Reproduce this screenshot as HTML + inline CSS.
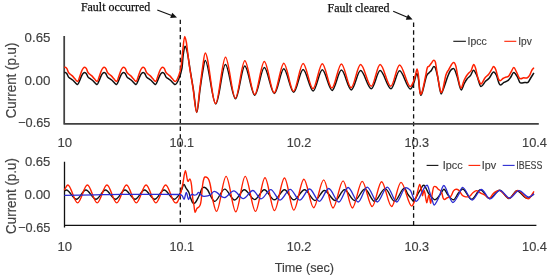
<!DOCTYPE html>
<html><head><meta charset="utf-8"><title>Current waveforms</title>
<style>html,body{margin:0;padding:0;background:#fff;width:550px;height:278px;overflow:hidden}svg{display:block}</style>
</head><body>
<svg width="550" height="278" viewBox="0 0 550 278">
<line x1="180.3" y1="19.7" x2="180.3" y2="225.6" stroke="#111" stroke-width="1.3" stroke-dasharray="4.4 3.23"/>
<line x1="413.6" y1="22.6" x2="413.6" y2="225.6" stroke="#111" stroke-width="1.3" stroke-dasharray="4.4 3.23"/>
<path d="M64.2 36V123.9H538.8" fill="none" stroke="#404040" stroke-width="1.75" stroke-linejoin="round"/>
<path d="M64.5 161.8V227.5M64.5 225.4H536.4" fill="none" stroke="#111111" stroke-width="1.3"/>
<path d="M64.30 72.56C64.63 72.57 64.97 72.60 65.30 72.60C65.83 72.60 66.37 73.05 66.90 73.79C67.40 74.48 67.90 76.20 68.40 76.88C69.03 77.75 69.67 77.96 70.30 78.43C71.07 79.00 71.83 79.34 72.60 79.98C73.37 80.61 74.13 81.48 74.90 82.24C75.53 82.87 76.17 83.63 76.80 84.14C77.10 84.39 77.40 84.50 77.70 84.50C78.33 84.50 78.97 82.10 79.60 80.69C80.23 79.28 80.87 77.31 81.50 76.05C82.10 74.85 82.70 73.94 83.30 73.31C83.80 72.79 84.30 72.60 84.80 72.60C85.33 72.60 85.87 73.05 86.40 73.79C86.90 74.48 87.40 76.20 87.90 76.88C88.53 77.75 89.17 77.96 89.80 78.43C90.57 79.00 91.33 79.34 92.10 79.98C92.87 80.61 93.63 81.48 94.40 82.24C95.03 82.87 95.67 83.63 96.30 84.14C96.60 84.39 96.90 84.50 97.20 84.50C97.83 84.50 98.47 82.10 99.10 80.69C99.73 79.28 100.37 77.31 101.00 76.05C101.60 74.85 102.20 73.94 102.80 73.31C103.30 72.79 103.80 72.60 104.30 72.60C104.83 72.60 105.37 73.05 105.90 73.79C106.40 74.48 106.90 76.20 107.40 76.88C108.03 77.75 108.67 77.96 109.30 78.43C110.07 79.00 110.83 79.34 111.60 79.98C112.37 80.61 113.13 81.48 113.90 82.24C114.53 82.87 115.17 83.63 115.80 84.14C116.10 84.39 116.40 84.50 116.70 84.50C117.33 84.50 117.97 82.10 118.60 80.69C119.23 79.28 119.87 77.31 120.50 76.05C121.10 74.85 121.70 73.94 122.30 73.31C122.80 72.79 123.30 72.60 123.80 72.60C124.33 72.60 124.87 73.05 125.40 73.79C125.90 74.48 126.40 76.20 126.90 76.88C127.53 77.75 128.17 77.96 128.80 78.43C129.57 79.00 130.33 79.34 131.10 79.98C131.87 80.61 132.63 81.48 133.40 82.24C134.03 82.87 134.67 83.63 135.30 84.14C135.60 84.39 135.90 84.50 136.20 84.50C136.83 84.50 137.47 82.10 138.10 80.69C138.73 79.28 139.37 77.31 140.00 76.05C140.60 74.85 141.20 73.94 141.80 73.31C142.30 72.79 142.80 72.60 143.30 72.60C143.83 72.60 144.37 73.05 144.90 73.79C145.40 74.48 145.90 76.20 146.40 76.88C147.03 77.75 147.67 77.96 148.30 78.43C149.07 79.00 149.83 79.34 150.60 79.98C151.37 80.61 152.13 81.48 152.90 82.24C153.53 82.87 154.17 83.63 154.80 84.14C155.10 84.39 155.40 84.50 155.70 84.50C156.33 84.50 156.97 82.10 157.60 80.69C158.23 79.28 158.87 77.31 159.50 76.05C160.10 74.85 160.70 73.94 161.30 73.31C161.80 72.79 162.30 72.60 162.80 72.60C163.33 72.60 163.87 73.05 164.40 73.79C164.90 74.48 165.40 76.20 165.90 76.88C166.53 77.75 167.17 77.96 167.80 78.43C168.57 79.00 169.33 79.34 170.10 79.98C170.87 80.61 171.63 81.48 172.40 82.24C173.03 82.87 173.67 83.63 174.30 84.14C174.60 84.39 174.90 84.50 175.20 84.50C176.40 84.50 177.60 81.91 178.80 79.00C179.87 76.41 180.93 73.82 182.00 68.00C182.40 65.82 182.80 57.89 183.20 55.00C183.80 50.66 184.40 46.30 185.00 46.30C185.60 46.30 186.20 48.06 186.80 50.00C187.20 51.29 187.60 53.63 188.00 56.00C188.67 59.96 189.33 64.85 190.00 69.00C191.10 75.85 192.20 81.96 193.30 89.00C194.47 96.46 195.63 112.50 196.80 112.50C197.90 112.50 199.00 96.61 200.10 89.00C201.00 82.77 201.90 76.03 202.80 71.00C203.60 66.53 204.40 60.50 205.20 60.50C208.73 60.50 212.27 104.00 215.80 104.00C219.00 104.00 222.20 64.40 225.40 64.40C228.77 64.40 232.13 98.80 235.50 98.80C238.60 98.80 241.70 65.90 244.80 65.90C248.13 65.90 251.47 95.30 254.80 95.30C257.97 95.30 261.13 67.60 264.30 67.60C267.67 67.60 271.03 93.60 274.40 93.60C277.53 93.60 280.67 68.70 283.80 68.70C287.10 68.70 290.40 92.30 293.70 92.30C296.83 92.30 299.97 69.40 303.10 69.40C306.47 69.40 309.83 91.00 313.20 91.00C316.23 91.00 319.27 69.80 322.30 69.80C325.57 69.80 328.83 90.40 332.10 90.40C335.20 90.40 338.30 70.10 341.40 70.10C344.70 70.10 348.00 89.90 351.30 89.90C354.40 89.90 357.50 70.60 360.60 70.60C364.17 70.60 367.73 88.80 371.30 88.80C374.23 88.80 377.17 70.60 380.10 70.60C383.73 70.60 387.37 88.80 391.00 88.80C393.87 88.80 396.73 70.80 399.60 70.80C403.23 70.80 406.87 89.10 410.50 89.10C411.67 89.10 412.83 85.26 414.00 82.40C414.97 80.03 415.93 73.40 416.90 73.40C417.47 73.40 418.03 76.56 418.60 80.00C419.00 82.43 419.40 88.22 419.80 91.00C420.13 93.32 420.47 95.30 420.80 95.30C421.43 95.30 422.07 93.14 422.70 91.00C423.97 86.71 425.23 79.62 426.50 76.00C427.37 73.52 428.23 73.69 429.10 72.70C429.83 71.86 430.57 71.47 431.30 70.50C432.13 69.40 432.97 66.50 433.80 66.50C434.30 66.50 434.80 66.53 435.30 67.60C435.77 68.60 436.23 70.87 436.70 72.70C437.03 74.01 437.37 75.39 437.70 77.00C438.83 82.46 439.97 93.90 441.10 93.90C441.73 93.90 442.37 91.67 443.00 90.00C444.63 85.70 446.27 80.25 447.90 76.00C448.77 73.75 449.63 71.66 450.50 70.50C451.53 69.12 452.57 68.40 453.60 68.40C454.73 68.40 455.87 72.78 457.00 76.00C458.40 79.98 459.80 90.00 461.20 90.00C462.23 90.00 463.27 85.46 464.30 83.50C465.20 81.79 466.10 80.16 467.00 79.00C468.20 77.46 469.40 77.02 470.60 75.40C471.57 74.09 472.53 70.20 473.50 70.20C474.67 70.20 475.83 73.45 477.00 76.00C478.33 78.92 479.67 86.60 481.00 86.60C482.50 86.60 484.00 82.85 485.50 81.30C486.77 79.99 488.03 79.45 489.30 78.00C490.73 76.35 492.17 72.00 493.60 72.00C494.53 72.00 495.47 73.35 496.40 75.30C497.30 77.18 498.20 81.49 499.10 83.50C499.63 84.69 500.17 84.90 500.70 84.90C501.80 84.90 502.90 83.05 504.00 82.40C505.27 81.65 506.53 81.65 507.80 80.70C508.70 80.02 509.60 78.73 510.50 77.50C511.60 76.00 512.70 72.50 513.80 72.50C514.90 72.50 516.00 74.58 517.10 76.40C518.00 77.88 518.90 81.03 519.80 82.40C520.37 83.26 520.93 83.10 521.50 83.10C522.57 83.10 523.63 82.51 524.70 82.40C525.80 82.28 526.90 83.21 528.00 82.40C528.90 81.74 529.80 79.45 530.70 78.00C531.77 76.28 532.83 74.60 533.90 72.90" fill="none" stroke="#111111" stroke-width="1.5" stroke-linejoin="round"/>
<path d="M64.30 67.25C64.63 67.27 64.97 67.30 65.30 67.30C65.83 67.30 66.37 67.84 66.90 68.72C67.40 69.54 67.90 71.60 68.40 72.41C69.03 73.44 69.67 73.70 70.30 74.26C71.07 74.93 71.83 75.35 72.60 76.10C73.37 76.86 74.13 77.89 74.90 78.80C75.53 79.55 76.17 80.46 76.80 81.07C77.10 81.36 77.40 81.50 77.70 81.50C78.33 81.50 78.97 78.64 79.60 76.96C80.23 75.28 80.87 72.92 81.50 71.42C82.10 69.99 82.70 68.90 83.30 68.15C83.80 67.53 84.30 67.30 84.80 67.30C85.33 67.30 85.87 67.84 86.40 68.72C86.90 69.54 87.40 71.60 87.90 72.41C88.53 73.44 89.17 73.70 89.80 74.26C90.57 74.93 91.33 75.35 92.10 76.10C92.87 76.86 93.63 77.89 94.40 78.80C95.03 79.55 95.67 80.46 96.30 81.07C96.60 81.36 96.90 81.50 97.20 81.50C97.83 81.50 98.47 78.64 99.10 76.96C99.73 75.28 100.37 72.92 101.00 71.42C101.60 69.99 102.20 68.90 102.80 68.15C103.30 67.53 103.80 67.30 104.30 67.30C104.83 67.30 105.37 67.84 105.90 68.72C106.40 69.54 106.90 71.60 107.40 72.41C108.03 73.44 108.67 73.70 109.30 74.26C110.07 74.93 110.83 75.35 111.60 76.10C112.37 76.86 113.13 77.89 113.90 78.80C114.53 79.55 115.17 80.46 115.80 81.07C116.10 81.36 116.40 81.50 116.70 81.50C117.33 81.50 117.97 78.64 118.60 76.96C119.23 75.28 119.87 72.92 120.50 71.42C121.10 69.99 121.70 68.90 122.30 68.15C122.80 67.53 123.30 67.30 123.80 67.30C124.33 67.30 124.87 67.84 125.40 68.72C125.90 69.54 126.40 71.60 126.90 72.41C127.53 73.44 128.17 73.70 128.80 74.26C129.57 74.93 130.33 75.35 131.10 76.10C131.87 76.86 132.63 77.89 133.40 78.80C134.03 79.55 134.67 80.46 135.30 81.07C135.60 81.36 135.90 81.50 136.20 81.50C136.83 81.50 137.47 78.64 138.10 76.96C138.73 75.28 139.37 72.92 140.00 71.42C140.60 69.99 141.20 68.90 141.80 68.15C142.30 67.53 142.80 67.30 143.30 67.30C143.83 67.30 144.37 67.84 144.90 68.72C145.40 69.54 145.90 71.60 146.40 72.41C147.03 73.44 147.67 73.70 148.30 74.26C149.07 74.93 149.83 75.35 150.60 76.10C151.37 76.86 152.13 77.89 152.90 78.80C153.53 79.55 154.17 80.46 154.80 81.07C155.10 81.36 155.40 81.50 155.70 81.50C156.33 81.50 156.97 78.64 157.60 76.96C158.23 75.28 158.87 72.92 159.50 71.42C160.10 69.99 160.70 68.90 161.30 68.15C161.80 67.53 162.30 67.30 162.80 67.30C163.33 67.30 163.87 67.84 164.40 68.72C164.90 69.54 165.40 71.60 165.90 72.41C166.53 73.44 167.17 73.70 167.80 74.26C168.57 74.93 169.33 75.35 170.10 76.10C170.87 76.86 171.63 77.89 172.40 78.80C173.03 79.55 173.67 80.46 174.30 81.07C174.60 81.36 174.90 81.50 175.20 81.50C176.40 81.50 177.60 78.60 178.80 75.50C179.60 73.43 180.40 70.95 181.20 66.00C181.67 63.11 182.13 55.92 182.60 52.00C183.30 46.12 184.00 36.60 184.70 36.60C185.27 36.60 185.83 39.49 186.40 42.50C186.80 44.62 187.20 48.91 187.60 52.00C188.30 57.41 189.00 63.33 189.70 68.00C190.80 75.33 191.90 80.94 193.00 88.00C194.20 95.70 195.40 112.30 196.60 112.30C197.70 112.30 198.80 96.26 199.90 88.00C200.77 81.49 201.63 73.72 202.50 68.00C203.40 62.06 204.30 53.00 205.20 53.00C208.67 53.00 212.13 103.50 215.60 103.50C218.90 103.50 222.20 57.30 225.50 57.30C228.80 57.30 232.10 98.20 235.40 98.20C238.53 98.20 241.67 60.80 244.80 60.80C248.10 60.80 251.40 94.50 254.70 94.50C257.90 94.50 261.10 61.50 264.30 61.50C267.60 61.50 270.90 92.80 274.20 92.80C277.40 92.80 280.60 63.20 283.80 63.20C287.03 63.20 290.27 91.30 293.50 91.30C296.70 91.30 299.90 63.50 303.10 63.50C306.40 63.50 309.70 88.70 313.00 88.70C316.10 88.70 319.20 63.80 322.30 63.80C325.50 63.80 328.70 88.10 331.90 88.10C335.07 88.10 338.23 64.00 341.40 64.00C344.63 64.00 347.87 87.80 351.10 87.80C354.27 87.80 357.43 64.50 360.60 64.50C364.17 64.50 367.73 86.30 371.30 86.30C374.23 86.30 377.17 64.50 380.10 64.50C383.67 64.50 387.23 86.30 390.80 86.30C393.73 86.30 396.67 64.90 399.60 64.90C403.20 64.90 406.80 86.60 410.40 86.60C411.43 86.60 412.47 83.84 413.50 81.50C414.10 80.14 414.70 77.57 415.30 75.50C415.90 73.43 416.50 69.10 417.10 69.10C417.57 69.10 418.03 72.10 418.50 76.00C418.87 79.07 419.23 86.95 419.60 90.00C419.97 93.05 420.33 94.30 420.70 94.30C421.30 94.30 421.90 92.74 422.50 90.50C423.53 86.64 424.57 80.89 425.60 76.00C426.17 73.32 426.73 69.39 427.30 67.80C427.90 66.12 428.50 66.88 429.10 66.20C429.83 65.38 430.57 64.22 431.30 63.30C432.13 62.25 432.97 60.30 433.80 60.30C434.30 60.30 434.80 60.52 435.30 61.80C435.57 62.48 435.83 64.57 436.10 66.20C436.50 68.64 436.90 71.65 437.30 74.00C438.20 79.28 439.10 84.69 440.00 89.10C440.37 90.89 440.73 92.60 441.10 92.60C441.70 92.60 442.30 91.30 442.90 89.10C443.90 85.43 444.90 78.39 445.90 75.00C446.80 71.95 447.70 71.25 448.60 69.80C450.30 67.05 452.00 62.40 453.70 62.40C454.43 62.40 455.17 63.71 455.90 66.20C456.50 68.24 457.10 73.44 457.70 76.00C458.80 80.70 459.90 88.00 461.00 88.00C461.97 88.00 462.93 82.98 463.90 80.80C464.63 79.15 465.37 77.65 466.10 76.50C467.07 74.98 468.03 73.94 469.00 72.80C469.73 71.94 470.47 71.78 471.20 70.50C472.03 69.05 472.87 64.60 473.70 64.60C474.30 64.60 474.90 66.15 475.50 68.00C476.13 69.95 476.77 73.51 477.40 76.00C477.70 77.18 478.00 78.33 478.30 79.00C479.20 81.00 480.10 84.00 481.00 84.00C482.30 84.00 483.60 79.65 484.90 78.00C486.17 76.39 487.43 75.77 488.70 74.20C489.63 73.04 490.57 71.27 491.50 69.80C492.20 68.70 492.90 66.50 493.60 66.50C494.33 66.50 495.07 67.91 495.80 69.80C496.70 72.11 497.60 76.87 498.50 79.10C499.07 80.50 499.63 80.70 500.20 80.70C501.10 80.70 502.00 79.08 502.90 78.50C503.80 77.92 504.70 77.54 505.60 77.20C506.53 76.84 507.47 77.28 508.40 76.40C509.30 75.55 510.20 73.47 511.10 72.00C512.00 70.53 512.90 67.60 513.80 67.60C514.70 67.60 515.60 70.30 516.50 72.00C517.43 73.76 518.37 76.56 519.30 78.00C519.83 78.82 520.37 78.80 520.90 78.80C521.80 78.80 522.70 77.82 523.60 77.70C524.70 77.55 525.80 78.44 526.90 78.00C527.80 77.64 528.70 76.70 529.60 75.30C530.33 74.16 531.07 71.71 531.80 70.40C532.50 69.15 533.20 68.53 533.90 67.60" fill="none" stroke="#FF2000" stroke-width="1.5" stroke-linejoin="round"/>
<path d="M64.30 190.93C64.97 190.62 65.63 190.00 66.30 190.00C69.67 190.00 73.03 199.30 76.40 199.30C79.56 199.30 82.71 190.00 85.87 190.00C89.24 190.00 92.60 199.30 95.97 199.30C99.13 199.30 102.28 190.00 105.44 190.00C108.81 190.00 112.17 199.30 115.54 199.30C118.70 199.30 121.85 190.00 125.01 190.00C128.38 190.00 131.74 199.30 135.11 199.30C138.27 199.30 141.42 190.00 144.58 190.00C147.95 190.00 151.31 199.30 154.68 199.30C157.84 199.30 160.99 190.00 164.15 190.00C167.52 190.00 170.88 199.30 174.25 199.30C175.97 199.30 177.68 196.70 179.40 194.50C180.10 193.60 180.80 191.54 181.50 190.00C182.33 188.17 183.17 184.40 184.00 184.40C184.63 184.40 185.27 186.86 185.90 187.90C186.87 189.49 187.83 190.20 188.80 192.30C189.40 193.60 190.00 196.45 190.60 198.10C191.23 199.85 191.87 201.59 192.50 202.50C193.07 203.32 193.63 203.30 194.20 203.30C195.80 203.30 197.40 199.05 199.00 196.00C199.97 194.15 200.93 190.27 201.90 188.60C202.63 187.33 203.37 187.20 204.10 187.20C205.30 187.20 206.50 188.32 207.70 190.00C208.93 191.72 210.17 195.39 211.40 197.40C212.50 199.19 213.60 201.40 214.70 201.40C218.03 201.40 221.37 189.10 224.70 189.10C228.03 189.10 231.37 200.00 234.70 200.00C237.90 200.00 241.10 189.80 244.30 189.80C247.77 189.80 251.23 199.60 254.70 199.60C257.90 199.60 261.10 189.80 264.30 189.80C267.67 189.80 271.03 199.80 274.40 199.80C277.77 199.80 281.13 189.80 284.50 189.80C287.60 189.80 290.70 199.80 293.80 199.80C297.40 199.80 301.00 189.80 304.60 189.80C308.07 189.80 311.53 200.50 315.00 200.50C318.13 200.50 321.27 190.50 324.40 190.50C328.00 190.50 331.60 200.50 335.20 200.50C338.30 200.50 341.40 189.80 344.50 189.80C347.87 189.80 351.23 200.50 354.60 200.50C358.07 200.50 361.53 189.00 365.00 189.00C368.13 189.00 371.27 201.30 374.40 201.30C378.00 201.30 381.60 188.60 385.20 188.60C388.30 188.60 391.40 201.30 394.50 201.30C397.80 201.30 401.10 188.10 404.40 188.10C405.60 188.10 406.80 192.69 408.00 194.50C409.10 196.16 410.20 197.16 411.30 198.50C412.03 199.39 412.77 201.20 413.50 201.20C414.40 201.20 415.30 198.91 416.20 197.40C416.93 196.17 417.67 194.33 418.40 193.00C419.30 191.37 420.20 190.03 421.10 188.50C421.63 187.59 422.17 186.35 422.70 185.70C423.07 185.25 423.43 185.20 423.80 185.20C424.17 185.20 424.53 185.74 424.90 186.30C425.43 187.11 425.97 188.28 426.50 189.30C427.23 190.71 427.97 192.50 428.70 193.60C429.63 195.00 430.57 195.84 431.50 196.80C432.57 197.90 433.63 199.80 434.70 199.80C435.63 199.80 436.57 198.85 437.50 197.90C438.63 196.75 439.77 195.02 440.90 193.50C441.90 192.16 442.90 189.30 443.90 189.30C445.27 189.30 446.63 193.51 448.00 195.00C449.83 197.01 451.67 199.80 453.50 199.80C455.13 199.80 456.77 194.92 458.40 193.00C459.83 191.32 461.27 189.00 462.70 189.00C465.63 189.00 468.57 199.30 471.50 199.30C474.50 199.30 477.50 189.80 480.50 189.80C483.43 189.80 486.37 198.50 489.30 198.50C492.77 198.50 496.23 190.30 499.70 190.30C502.77 190.30 505.83 198.60 508.90 198.60C511.60 198.60 514.30 190.70 517.00 190.70C520.37 190.70 523.73 198.30 527.10 198.30C529.40 198.30 531.70 195.37 534.00 193.90" fill="none" stroke="#111111" stroke-width="1.4" stroke-linejoin="round"/>
<path d="M64.30 190.08C65.47 188.39 66.63 185.00 67.80 185.00C71.07 185.00 74.33 202.90 77.60 202.90C80.86 202.90 84.11 185.00 87.37 185.00C90.64 185.00 93.90 202.90 97.17 202.90C100.43 202.90 103.68 185.00 106.94 185.00C110.21 185.00 113.47 202.90 116.74 202.90C120.00 202.90 123.25 185.00 126.51 185.00C129.78 185.00 133.04 202.90 136.31 202.90C139.57 202.90 142.82 185.00 146.08 185.00C149.35 185.00 152.61 202.90 155.88 202.90C159.14 202.90 162.39 185.00 165.65 185.00C168.92 185.00 172.18 202.90 175.45 202.90C176.10 202.90 176.75 202.91 177.40 202.00C178.07 201.07 178.73 199.58 179.40 197.40C180.47 193.91 181.53 189.73 182.60 185.00C183.53 180.86 184.47 170.80 185.40 170.80C186.17 170.80 186.93 179.60 187.70 181.00C188.43 182.34 189.17 179.00 189.90 179.00C190.43 179.00 190.97 181.32 191.50 185.00C191.93 187.99 192.37 195.39 192.80 199.00C193.17 202.06 193.53 202.77 193.90 205.00C194.27 207.23 194.63 212.40 195.00 212.40C195.60 212.40 196.20 209.53 196.80 208.70C197.53 207.69 198.27 207.76 199.00 206.90C199.43 206.39 199.87 205.96 200.30 204.60C200.60 203.66 200.90 202.56 201.20 200.00C201.67 196.02 202.13 188.54 202.60 185.00C203.10 181.21 203.60 179.33 204.10 178.00C204.60 176.67 205.10 177.00 205.60 177.00C206.20 177.00 206.80 177.14 207.40 177.70C207.93 178.20 208.47 178.77 209.00 180.20C209.50 181.54 210.00 183.39 210.50 186.00C211.27 189.99 212.03 196.75 212.80 200.00C214.03 205.22 215.27 211.40 216.50 211.40C219.70 211.40 222.90 176.40 226.10 176.40C229.33 176.40 232.57 211.80 235.80 211.80C238.93 211.80 242.07 176.40 245.20 176.40C248.63 176.40 252.07 211.40 255.50 211.40C258.67 211.40 261.83 177.80 265.00 177.80C268.13 177.80 271.27 210.60 274.40 210.60C277.77 210.60 281.13 178.00 284.50 178.00C287.60 178.00 290.70 210.10 293.80 210.10C297.17 210.10 300.53 179.20 303.90 179.20C307.13 179.20 310.37 207.70 313.60 207.70C316.97 207.70 320.33 179.90 323.70 179.90C326.80 179.90 329.90 208.00 333.00 208.00C336.37 208.00 339.73 180.90 343.10 180.90C346.20 180.90 349.30 208.00 352.40 208.00C355.67 208.00 358.93 181.40 362.20 181.40C365.53 181.40 368.87 206.50 372.20 206.50C375.33 206.50 378.47 181.80 381.60 181.80C384.93 181.80 388.27 206.50 391.60 206.50C394.73 206.50 397.87 182.40 401.00 182.40C404.60 182.40 408.20 206.10 411.80 206.10C412.53 206.10 413.27 203.97 414.00 202.50C414.53 201.43 415.07 200.04 415.60 198.50C416.17 196.87 416.73 194.95 417.30 193.00C418.10 190.25 418.90 184.40 419.70 184.40C420.33 184.40 420.97 188.34 421.60 190.90C421.90 192.11 422.20 195.70 422.50 195.70C423.03 195.70 423.57 190.10 424.10 190.10C424.37 190.10 424.63 191.68 424.90 193.00C425.27 194.81 425.63 197.61 426.00 199.50C426.27 200.88 426.53 202.80 426.80 202.80C427.17 202.80 427.53 199.97 427.90 198.50C428.17 197.43 428.43 195.20 428.70 195.20C429.07 195.20 429.43 196.92 429.80 198.50C430.07 199.65 430.33 203.40 430.60 203.40C430.90 203.40 431.20 200.26 431.50 198.50C431.73 197.13 431.97 195.34 432.20 194.00C432.60 191.71 433.00 188.82 433.40 187.60C433.83 186.28 434.27 186.40 434.70 186.40C435.27 186.40 435.83 186.63 436.40 187.10C437.00 187.60 437.60 188.78 438.20 189.30C438.93 189.94 439.67 189.77 440.40 190.60C440.93 191.20 441.47 192.14 442.00 193.60C442.37 194.60 442.73 197.13 443.10 198.00C443.57 199.10 444.03 199.50 444.50 199.50C445.30 199.50 446.10 198.32 446.90 197.90C447.43 197.62 447.97 197.56 448.50 197.40C449.17 197.20 449.83 197.37 450.50 196.80C450.93 196.43 451.37 195.45 451.80 194.60C452.37 193.49 452.93 191.58 453.50 190.90C454.40 189.82 455.30 189.30 456.20 189.30C457.10 189.30 458.00 189.61 458.90 190.40C459.63 191.04 460.37 192.53 461.10 193.60C461.47 194.13 461.83 194.90 462.20 195.20C463.10 195.93 464.00 196.41 464.90 196.70C465.77 196.98 466.63 196.90 467.50 196.90C468.33 196.90 469.17 196.65 470.00 196.00C470.97 195.25 471.93 193.50 472.90 192.70C474.10 191.70 475.30 190.60 476.50 190.60C477.50 190.60 478.50 191.85 479.50 192.40C480.70 193.05 481.90 193.54 483.10 194.20C484.07 194.74 485.03 195.33 486.00 196.00C487.10 196.76 488.20 198.50 489.30 198.50C489.90 198.50 490.50 197.45 491.10 196.70C491.83 195.78 492.57 194.28 493.30 193.50C494.27 192.48 495.23 191.83 496.20 191.30C497.13 190.79 498.07 190.40 499.00 190.40C502.43 190.40 505.87 198.30 509.30 198.30C512.10 198.30 514.90 190.40 517.70 190.40C521.27 190.40 524.83 198.90 528.40 198.90C530.27 198.90 532.13 193.90 534.00 191.40" fill="none" stroke="#FF2000" stroke-width="1.4" stroke-linejoin="round"/>
<path d="M64.30 195.40C74.53 195.20 84.77 195.00 95.00 194.80C103.67 194.63 112.33 194.36 121.00 194.30C130.67 194.23 140.33 194.37 150.00 194.40C159.33 194.43 168.67 194.44 178.00 194.50C178.83 194.51 179.67 194.33 180.50 194.60C181.10 194.80 181.70 195.13 182.30 195.90C182.90 196.67 183.50 199.20 184.10 199.20C184.83 199.20 185.57 192.30 186.30 192.30C187.03 192.30 187.77 199.50 188.50 199.50C189.10 199.50 189.70 196.71 190.30 195.90C191.03 194.91 191.77 194.10 192.50 194.10C193.10 194.10 193.70 195.20 194.30 195.20C195.13 195.20 195.97 195.06 196.80 194.50C197.40 194.10 198.00 192.30 198.60 192.30C199.47 192.30 200.33 194.57 201.20 195.20C202.17 195.90 203.13 196.30 204.10 196.30C205.30 196.30 206.50 196.23 207.70 195.90C208.67 195.63 209.63 195.16 210.60 194.50C211.83 193.66 213.07 191.40 214.30 191.40C217.60 191.40 220.90 197.70 224.20 197.70C227.40 197.70 230.60 190.90 233.80 190.90C236.93 190.90 240.07 198.60 243.20 198.60C246.43 198.60 249.67 190.50 252.90 190.50C255.60 190.50 258.30 198.90 261.00 198.90C264.27 198.90 267.53 189.60 270.80 189.60C273.90 189.60 277.00 200.10 280.10 200.10C283.47 200.10 286.83 189.30 290.20 189.30C293.33 189.30 296.47 200.10 299.60 200.10C302.93 200.10 306.27 189.00 309.60 189.00C312.87 189.00 316.13 201.30 319.40 201.30C322.50 201.30 325.60 188.50 328.70 188.50C332.07 188.50 335.43 202.00 338.80 202.00C341.90 202.00 345.00 187.50 348.10 187.50C351.47 187.50 354.83 202.00 358.20 202.00C361.20 202.00 364.20 187.10 367.20 187.10C370.57 187.10 373.93 202.00 377.30 202.00C380.63 202.00 383.97 187.10 387.30 187.10C390.43 187.10 393.57 202.00 396.70 202.00C399.70 202.00 402.70 187.60 405.70 187.60C406.47 187.60 407.23 187.89 408.00 188.40C408.90 188.99 409.80 189.33 410.70 190.90C411.63 192.53 412.57 196.27 413.50 198.00C414.43 199.73 415.37 201.30 416.30 201.30C417.17 201.30 418.03 199.82 418.90 198.50C419.63 197.38 420.37 195.48 421.10 194.00C422.00 192.18 422.90 189.92 423.80 188.60C424.90 186.99 426.00 185.20 427.10 185.20C427.47 185.20 427.83 186.11 428.20 187.10C428.73 188.54 429.27 190.76 429.80 192.50C430.53 194.89 431.27 197.42 432.00 199.50C432.73 201.58 433.47 205.00 434.20 205.00C435.10 205.00 436.00 202.81 436.90 201.20C437.87 199.47 438.83 197.46 439.80 195.00C440.53 193.13 441.27 189.90 442.00 188.20C442.63 186.73 443.27 185.50 443.90 185.50C444.53 185.50 445.17 186.89 445.80 188.20C446.70 190.06 447.60 193.19 448.50 195.00C449.97 197.95 451.43 202.50 452.90 202.50C454.77 202.50 456.63 197.94 458.50 195.00C459.83 192.90 461.17 187.40 462.50 187.40C465.73 187.40 468.97 200.00 472.20 200.00C475.23 200.00 478.27 189.50 481.30 189.50C484.20 189.50 487.10 198.90 490.00 198.90C493.30 198.90 496.60 190.30 499.90 190.30C503.13 190.30 506.37 198.00 509.60 198.00C512.73 198.00 515.87 190.70 519.00 190.70C522.33 190.70 525.67 197.20 529.00 197.20C530.67 197.20 532.33 195.00 534.00 193.90" fill="none" stroke="#2C2CD2" stroke-width="1.3" stroke-linejoin="round"/>
<text x="50.4" y="41.6" font-size="13.0" text-anchor="end" font-family="'Liberation Sans', Arial, sans-serif" fill="#404040" stroke="#404040" stroke-width="0.15" textLength="25.8" lengthAdjust="spacingAndGlyphs">0.65</text>
<text x="50.4" y="84.9" font-size="13.0" text-anchor="end" font-family="'Liberation Sans', Arial, sans-serif" fill="#404040" stroke="#404040" stroke-width="0.15" textLength="26.0" lengthAdjust="spacingAndGlyphs">0.00</text>
<text x="50.4" y="127.3" font-size="13.0" text-anchor="end" font-family="'Liberation Sans', Arial, sans-serif" fill="#404040" stroke="#404040" stroke-width="0.15" textLength="32.2" lengthAdjust="spacingAndGlyphs">&#8722;0.65</text>
<text x="50.4" y="166.0" font-size="13.0" text-anchor="end" font-family="'Liberation Sans', Arial, sans-serif" fill="#404040" stroke="#404040" stroke-width="0.15" textLength="25.5" lengthAdjust="spacingAndGlyphs">0.65</text>
<text x="50.4" y="198.6" font-size="13.0" text-anchor="end" font-family="'Liberation Sans', Arial, sans-serif" fill="#404040" stroke="#404040" stroke-width="0.15" textLength="25.8" lengthAdjust="spacingAndGlyphs">0.00</text>
<text x="50.4" y="231.8" font-size="13.0" text-anchor="end" font-family="'Liberation Sans', Arial, sans-serif" fill="#404040" stroke="#404040" stroke-width="0.15" textLength="32.2" lengthAdjust="spacingAndGlyphs">&#8722;0.65</text>
<text x="64.8" y="147.1" font-size="13.0" text-anchor="middle" font-family="'Liberation Sans', Arial, sans-serif" fill="#404040" stroke="#404040" stroke-width="0.15" textLength="14.6" lengthAdjust="spacingAndGlyphs">10</text>
<text x="181.7" y="147.1" font-size="13.0" text-anchor="middle" font-family="'Liberation Sans', Arial, sans-serif" fill="#404040" stroke="#404040" stroke-width="0.15" textLength="24.6" lengthAdjust="spacingAndGlyphs">10.1</text>
<text x="299.1" y="147.1" font-size="13.0" text-anchor="middle" font-family="'Liberation Sans', Arial, sans-serif" fill="#404040" stroke="#404040" stroke-width="0.15" textLength="24.6" lengthAdjust="spacingAndGlyphs">10.2</text>
<text x="416.8" y="147.1" font-size="13.0" text-anchor="middle" font-family="'Liberation Sans', Arial, sans-serif" fill="#404040" stroke="#404040" stroke-width="0.15" textLength="24.8" lengthAdjust="spacingAndGlyphs">10.3</text>
<text x="534.5" y="147.1" font-size="13.0" text-anchor="middle" font-family="'Liberation Sans', Arial, sans-serif" fill="#404040" stroke="#404040" stroke-width="0.15" textLength="25.0" lengthAdjust="spacingAndGlyphs">10.4</text>
<text x="64.8" y="251.0" font-size="13.0" text-anchor="middle" font-family="'Liberation Sans', Arial, sans-serif" fill="#404040" stroke="#404040" stroke-width="0.15" textLength="14.6" lengthAdjust="spacingAndGlyphs">10</text>
<text x="181.7" y="251.0" font-size="13.0" text-anchor="middle" font-family="'Liberation Sans', Arial, sans-serif" fill="#404040" stroke="#404040" stroke-width="0.15" textLength="24.6" lengthAdjust="spacingAndGlyphs">10.1</text>
<text x="299.1" y="251.0" font-size="13.0" text-anchor="middle" font-family="'Liberation Sans', Arial, sans-serif" fill="#404040" stroke="#404040" stroke-width="0.15" textLength="24.6" lengthAdjust="spacingAndGlyphs">10.2</text>
<text x="416.8" y="251.0" font-size="13.0" text-anchor="middle" font-family="'Liberation Sans', Arial, sans-serif" fill="#404040" stroke="#404040" stroke-width="0.15" textLength="24.8" lengthAdjust="spacingAndGlyphs">10.3</text>
<text x="534.5" y="251.0" font-size="13.0" text-anchor="middle" font-family="'Liberation Sans', Arial, sans-serif" fill="#404040" stroke="#404040" stroke-width="0.15" textLength="25.0" lengthAdjust="spacingAndGlyphs">10.4</text>
<text transform="translate(15.8,80.4) rotate(-90)" font-size="13.8" text-anchor="middle" font-family="'Liberation Sans', Arial, sans-serif" fill="#404040" stroke="#404040" stroke-width="0.15" textLength="75.8" lengthAdjust="spacingAndGlyphs">Current (p.u)</text>
<text transform="translate(15.8,196.0) rotate(-90)" font-size="13.8" text-anchor="middle" font-family="'Liberation Sans', Arial, sans-serif" fill="#404040" stroke="#404040" stroke-width="0.15" textLength="75.8" lengthAdjust="spacingAndGlyphs">Current (p.u)</text>
<text x="304.4" y="271.8" font-size="12.5" text-anchor="middle" font-family="'Liberation Sans', Arial, sans-serif" fill="#404040" stroke="#404040" stroke-width="0.15" textLength="59.3" lengthAdjust="spacingAndGlyphs">Time (sec)</text>
<line x1="453.3" y1="41.3" x2="465.9" y2="41.3" stroke="#111111" stroke-width="1.1"/>
<text x="467.6" y="45.2" font-size="10.3" text-anchor="start" font-family="'Liberation Sans', Arial, sans-serif" fill="#404040" stroke="#404040" stroke-width="0.15" textLength="19.2" lengthAdjust="spacingAndGlyphs">Ipcc</text>
<line x1="504.3" y1="41.3" x2="516.3" y2="41.3" stroke="#FF2000" stroke-width="1.1"/>
<text x="518.2" y="45.2" font-size="10.3" text-anchor="start" font-family="'Liberation Sans', Arial, sans-serif" fill="#404040" stroke="#404040" stroke-width="0.15" textLength="13.6" lengthAdjust="spacingAndGlyphs">Ipv</text>
<line x1="426.6" y1="165.4" x2="438.4" y2="165.4" stroke="#111111" stroke-width="1.1"/>
<text x="442.7" y="168.9" font-size="10.5" text-anchor="start" font-family="'Liberation Sans', Arial, sans-serif" fill="#404040" stroke="#404040" stroke-width="0.15" textLength="19.9" lengthAdjust="spacingAndGlyphs">Ipcc</text>
<line x1="468.5" y1="165.4" x2="480.3" y2="165.4" stroke="#FF2000" stroke-width="1.1"/>
<text x="481.8" y="168.9" font-size="10.5" text-anchor="start" font-family="'Liberation Sans', Arial, sans-serif" fill="#404040" stroke="#404040" stroke-width="0.15" textLength="14.4" lengthAdjust="spacingAndGlyphs">Ipv</text>
<line x1="502.7" y1="165.4" x2="514.6" y2="165.4" stroke="#2C2CD2" stroke-width="1.1"/>
<text x="516.3" y="168.9" font-size="10.5" text-anchor="start" font-family="'Liberation Sans', Arial, sans-serif" fill="#404040" stroke="#404040" stroke-width="0.15" textLength="26.0" lengthAdjust="spacingAndGlyphs">IBESS</text>
<text x="80.9" y="11.3" font-size="12.0" text-anchor="start" font-family="'Liberation Serif', 'Times New Roman', serif" fill="#111" stroke="#111" stroke-width="0.25" textLength="69.4" lengthAdjust="spacingAndGlyphs">Fault occurred</text>
<text x="327.5" y="12.4" font-size="12.0" text-anchor="start" font-family="'Liberation Serif', 'Times New Roman', serif" fill="#111" stroke="#111" stroke-width="0.25" textLength="62.0" lengthAdjust="spacingAndGlyphs">Fault cleared</text>
<line x1="157.3" y1="10.0" x2="171.7" y2="15.5" stroke="#111" stroke-width="1.2"/><path d="M177.00 17.60L170.17 18.07L172.26 12.66Z" fill="#111"/>
<line x1="393.2" y1="11.2" x2="407.4" y2="17.3" stroke="#111" stroke-width="1.2"/><path d="M412.60 19.50L405.76 19.73L408.04 14.40Z" fill="#111"/>
</svg>
</body></html>
